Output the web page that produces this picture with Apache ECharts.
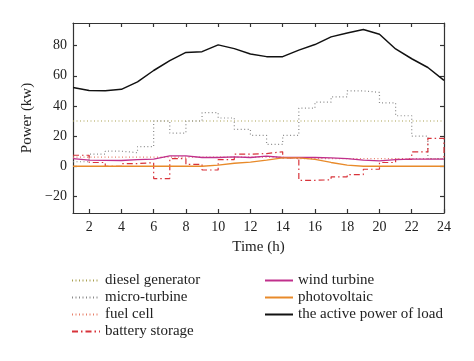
<!DOCTYPE html>
<html><head><meta charset="utf-8">
<script src="https://cdn.jsdelivr.net/npm/echarts@6/dist/echarts.min.js"></script>
<style>html,body{margin:0;padding:0;background:#fff}#c{width:474px;height:361px}</style>
</head><body><div id="c"></div>
<script>
const hours = [1,2,3,4,5,6,7,8,9,10,11,12,13,14,15,16,17,18,19,20,21,22,23,24];
const xTicks = [2,4,6,8,10,12,14,16,18,20,22,24];
const yTicks = [-20,0,20,40,60,80];
const dieselGenerator = [30,30,30,30,30,30,30,30,30,30,30,30,30,30,30,30,30,30,30,30,30,30,30,30];
const microTurbine = [3,8,10,9,13,30,22,30,35.5,32,24.5,20.5,14.5,20.5,38.5,42.5,46,50,49,42,33.5,20,5,5];
const fuelCell = [6,6,6,6,6,6,6,6,6,6,6,6,6,5,5,5,5,5,5,5,5,5,5,5];
const batteryStorage = [7.3,2.5,0,1.8,2.4,-8.2,5,1.3,-2.5,4.4,8,8.4,9.6,5.5,-9.3,-9,-7,-5.5,-2,2.5,4.5,9.5,18.5,5];
const windTurbine = [5.1,4,3.9,3.8,4.4,4.7,6.9,6.9,5.8,5.8,6.2,5.8,6.7,5.8,5.8,5.8,5.6,5.1,4,3.6,4.4,4.7,4.7,4.7];
const photovoltaic = [0,0,0,0,0,0,0,0,0,0.7,2,2.8,4,5.5,5.5,4.5,2.5,0.8,0,0,0,0,0,0];
const activeLoad = [52.2,50.2,50,51,56,63.5,70,75.5,76,80.5,78,74.5,72.7,72.7,77,80.7,85.8,88.4,90.7,87.5,77.8,71.3,65.5,56.9];

const pair = a => hours.map((h,i)=>[h,a[i]]);
const font = 'Liberation Serif';
const chart = echarts.init(document.getElementById('c'), null, {renderer:'canvas'});
const axisLine = {show:true, onZero:false, lineStyle:{color:'#333', width:1.2}};
const tick = {show:true, inside:true, length:4, lineStyle:{color:'#333', width:1.2}};
const legendText = {color:'#222', fontFamily:font, fontSize:15, lineHeight:17};
chart.setOption({
  animation:false,
  backgroundColor:'#fff',
  grid:{left:73, right:30, top:23, bottom:148},
  xAxis:[
    {type:'value', min:1, max:24, axisLine, splitLine:{show:false},
     axisTick:Object.assign({customValues:xTicks}, tick),
     axisLabel:{customValues:xTicks, color:'#222', fontFamily:font, fontSize:14, margin:7},
     name:'Time (h)', nameLocation:'middle', nameGap:27,
     nameTextStyle:{color:'#222', fontFamily:font, fontSize:15}},
    {type:'value', min:1, max:24, position:'top', axisLine, splitLine:{show:false},
     axisTick:Object.assign({customValues:xTicks}, tick), axisLabel:{show:false}}
  ],
  yAxis:[
    {type:'value', min:-31, max:95, axisLine, splitLine:{show:false},
     axisTick:Object.assign({customValues:yTicks}, tick),
     axisLabel:{customValues:yTicks, color:'#222', fontFamily:font, fontSize:14, margin:6,
       formatter:v => String(v).replace('-', '\u2212')},
     name:'Power (kw)', nameLocation:'middle', nameGap:36,
     nameTextStyle:{color:'#222', fontFamily:font, fontSize:15}},
    {type:'value', min:-31, max:95, position:'right', axisLine, splitLine:{show:false},
     axisTick:Object.assign({customValues:yTicks}, tick), axisLabel:{show:false}}
  ],
  legend:[
    {data:['diesel generator','micro-turbine','fuel cell','battery storage'], orient:'vertical',
     left:66, top:267, itemWidth:28, itemHeight:10, itemGap:0, icon:'inherit',
     itemStyle:{opacity:0}, textStyle:legendText},
    {data:['wind turbine','photovoltaic','the active power of load'], orient:'vertical',
     left:259, top:267, itemWidth:28, itemHeight:10, itemGap:0, icon:'inherit',
     itemStyle:{opacity:0}, textStyle:legendText}
  ],
  series:[
    {name:'diesel generator', type:'line', data:pair(dieselGenerator), symbol:'none',
     lineStyle:{color:'#a9a050', width:1.2, type:[1,2.5]}, itemStyle:{color:'#a9a050'}},
    {name:'micro-turbine', type:'line', step:'end', data:pair(microTurbine), symbol:'none',
     lineStyle:{color:'#8a8a8a', width:1.2, type:[1,2.5]}, itemStyle:{color:'#8a8a8a'}},
    {name:'fuel cell', type:'line', step:'end', data:pair(fuelCell), symbol:'none',
     lineStyle:{color:'#e8806a', width:1.2, type:[1,2.5]}, itemStyle:{color:'#e8806a'}},
    {name:'battery storage', type:'line', step:'end', data:pair(batteryStorage), symbol:'none',
     lineStyle:{color:'#d8333a', width:1.2, type:[6,3,1.5,3]}, itemStyle:{color:'#d8333a'}},
    {name:'wind turbine', type:'line', data:pair(windTurbine), symbol:'none',
     lineStyle:{color:'#c0308c', width:1.3}, itemStyle:{color:'#c0308c'}},
    {name:'photovoltaic', type:'line', data:pair(photovoltaic), symbol:'none',
     lineStyle:{color:'#e88a2a', width:1.3}, itemStyle:{color:'#e88a2a'}},
    {name:'the active power of load', type:'line', data:pair(activeLoad), symbol:'none',
     lineStyle:{color:'#111', width:1.5}, itemStyle:{color:'#111'}}
  ]
});
</script></body></html>
